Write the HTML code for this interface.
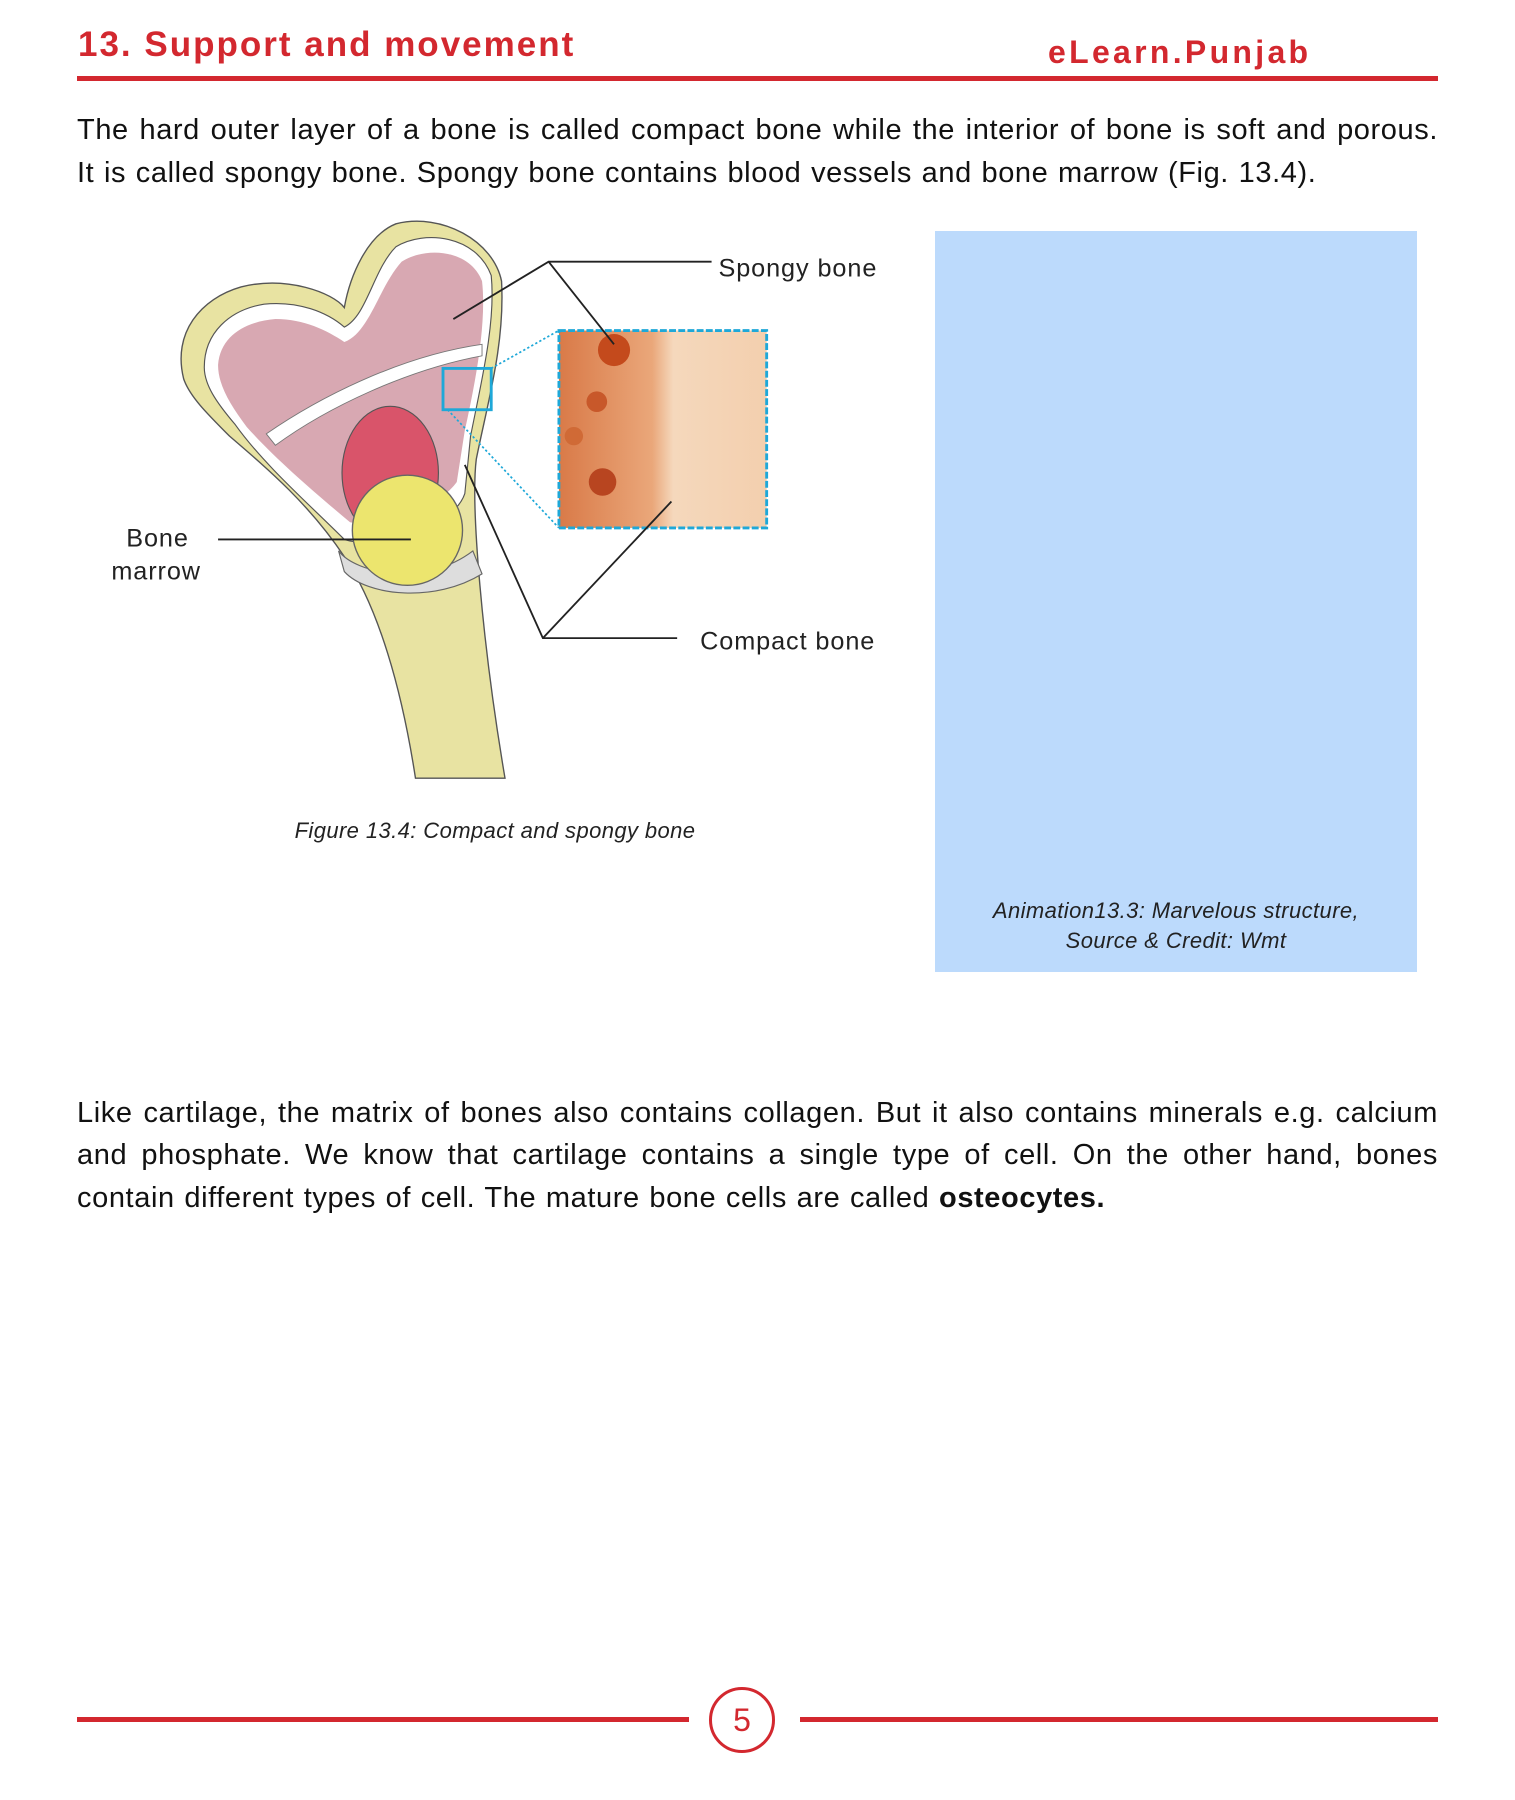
<!DOCTYPE html>
<html><head><meta charset="utf-8"><style>
html,body{margin:0;padding:0;background:#fff;}
body{width:1515px;height:1800px;position:relative;overflow:hidden;font-family:"Liberation Sans",sans-serif;}
.abs{position:absolute;}
.red{color:#d3282f;font-weight:bold;}
.p{position:absolute;left:77px;width:1361px;font-size:29px;color:#111;text-align:justify;text-align-last:justify;line-height:43px;letter-spacing:0.6px;word-spacing:1px;white-space:nowrap;}
</style></head><body>
<div class="abs red" style="left:78px;top:25px;font-size:35px;letter-spacing:2px;">13. Support and movement</div>
<div class="abs red" style="left:1048px;top:34px;font-size:32px;letter-spacing:3.3px;">eLearn.Punjab</div>
<div class="abs" style="left:77px;top:76px;width:1361px;height:5px;background:#d3282f;"></div>

<div class="p" style="top:109px;">The hard outer layer of a bone is called compact bone while the interior of bone is soft and porous.</div>
<div class="p" style="top:152px;text-align-last:left;">It is called spongy bone. Spongy bone contains blood vessels and bone marrow (Fig. 13.4).</div>

<svg class="abs" style="left:0;top:0" width="1515" height="1000" viewBox="0 0 1515 1000">
<defs>
<linearGradient id="ins" x1="0" x2="1" y1="0" y2="0">
<stop offset="0" stop-color="#d97a48"/><stop offset="0.45" stop-color="#eaa77a"/><stop offset="0.55" stop-color="#f5d8bc"/><stop offset="1" stop-color="#f3cfae"/></linearGradient>
</defs>
<g transform="scale(1.1477)">
<path d="M160,330 C150,290 175,260 210,250 C250,240 290,255 300,268 C305,240 320,205 345,195 C385,185 430,210 437,245 C440,300 425,350 415,400 C410,440 420,560 440,678 L362,678 C350,600 330,530 300,485 C270,440 235,410 200,380 C180,360 165,345 160,330 Z" fill="#e8e3a2" stroke="#555" stroke-width="1.2"/>
<path d="M178,320 C178,290 200,270 230,265 C260,262 285,272 300,285 C320,275 325,235 345,215 C370,200 415,205 428,240 C432,280 420,330 410,380 L405,430 C395,460 330,480 300,470 C270,440 230,405 205,370 C188,350 178,335 178,320 Z" fill="#fff" stroke="#555" stroke-width="1"/>
<path d="M190,318 C192,292 215,280 240,278 C265,278 285,288 300,298 C322,290 330,250 350,228 C372,214 410,218 420,245 C424,280 415,330 405,375 L398,420 C380,445 330,460 305,455 C275,430 240,400 215,372 C200,352 190,335 190,318 Z" fill="#d8a8b2"/>
<path d="M232,378 C280,345 350,310 420,300 L420,310 C355,322 285,355 240,388 Z" fill="#fff" stroke="#777" stroke-width="0.8"/>
<ellipse cx="340" cy="412" rx="42" ry="58" fill="#d9546a" stroke="#555" stroke-width="1"/>
<path d="M295,480 C310,500 370,512 412,480 L420,500 C380,525 320,520 300,498 Z" fill="#ddd" stroke="#666" stroke-width="1"/>
<circle cx="355" cy="462" r="48" fill="#ece56e" stroke="#666" stroke-width="1.2"/>
<rect x="487" y="288" width="181" height="172" fill="url(#ins)"/>
<circle cx="535" cy="305" r="14" fill="#c44a1c"/><circle cx="520" cy="350" r="9" fill="#c8582a"/><circle cx="525" cy="420" r="12" fill="#b84520"/><circle cx="500" cy="380" r="8" fill="#d06a36"/>
<rect x="487" y="288" width="181" height="172" fill="none" stroke="#1ea8d8" stroke-width="2.5" stroke-dasharray="6,2"/>
<rect x="386" y="321" width="42" height="36" fill="none" stroke="#1ea8d8" stroke-width="2.5"/>
<line x1="428" y1="321" x2="487" y2="288" stroke="#1ea8d8" stroke-width="1.5" stroke-dasharray="2,2"/>
<line x1="390" y1="357" x2="487" y2="460" stroke="#1ea8d8" stroke-width="1.5" stroke-dasharray="2,2"/>
<g stroke="#222" stroke-width="1.6" fill="none">
<polyline points="395,278 478,228 620,228"/><line x1="478" y1="228" x2="535" y2="300"/>
<polyline points="405,405 473,556 590,556"/><line x1="473" y1="556" x2="585" y2="437"/>
<line x1="190" y1="470" x2="358" y2="470"/>
</g>
<g font-family="Liberation Sans,sans-serif" font-size="22" fill="#222" letter-spacing="0.8">
<text x="626" y="241">Spongy bone</text>
<text x="610" y="566">Compact bone</text>
<text x="110" y="476">Bone</text>
<text x="97" y="505">marrow</text>
</g>
</g>
</svg>
<div class="abs" style="left:200px;top:818px;width:590px;text-align:center;font-style:italic;font-size:22px;letter-spacing:0.4px;color:#222;">Figure 13.4: Compact and spongy bone</div>

<div class="abs" style="left:935px;top:231px;width:482px;height:741px;background:#bcdafc;"></div>
<div class="abs" style="left:935px;top:896px;width:482px;text-align:center;font-style:italic;font-size:22px;letter-spacing:0.4px;line-height:30px;color:#222;">Animation13.3: Marvelous structure,<br>Source &amp; Credit: Wmt</div>

<div class="p" style="top:1092px;">Like cartilage, the matrix of bones also contains collagen. But it also contains minerals e.g. calcium</div>
<div class="p" style="top:1134px;">and phosphate. We know that cartilage contains a single type of cell. On the other hand, bones</div>
<div class="p" style="top:1177px;text-align-last:left;">contain different types of cell. The mature bone cells are called <b>osteocytes.</b></div>

<div class="abs" style="left:77px;top:1717px;width:612px;height:5px;background:#d3282f;"></div>
<div class="abs" style="left:800px;top:1717px;width:638px;height:5px;background:#d3282f;"></div>
<div class="abs" style="left:709px;top:1687px;width:66px;height:66px;border:3px solid #d3282f;border-radius:50%;box-sizing:border-box;text-align:center;line-height:60px;font-size:32px;color:#d3282f;">5</div>
</body></html>
